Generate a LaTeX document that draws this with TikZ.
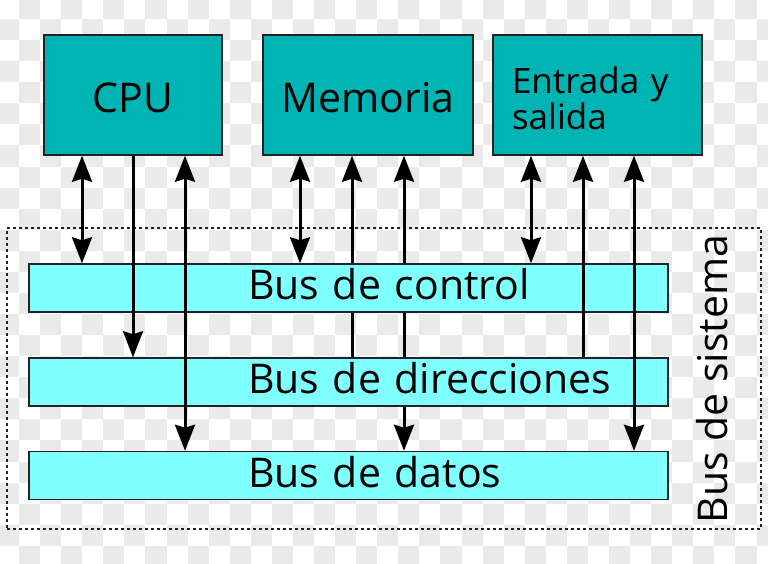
\documentclass[tikz,border=0pt]{standalone}
\usepackage{fontspec}
\setmainfont{Open Sans}
\usepackage{tikz}
\usetikzlibrary{arrows.meta}
\pgfdeclarelayer{front}
\pgfsetlayers{main,front}
\definecolor{unitfill}{RGB}{0,180,180}
\definecolor{busfill}{RGB}{128,255,255}
\definecolor{edge}{RGB}{34,34,34}
\definecolor{checkgray}{RGB}{234,234,234}

\begin{document}
\begin{tikzpicture}[
    x=1pt, y=-1pt,
    unit/.style={draw=edge, line width=1.5pt, fill=unitfill, inner sep=0pt,
                 minimum width=#1, minimum height=120pt},
    big/.style={font=\fontsize{41}{46}\selectfont, text height=36pt, text depth=0pt},
    bus/.style={draw=edge, line width=1.5pt, fill=busfill, inner sep=0pt,
                minimum width=639pt, minimum height=48pt, text width=639pt, align=left,
                font=\fontsize{41}{46}\selectfont, text height=29pt, text depth=6pt},
    frame/.style={draw=edge, line width=1.5pt, dash pattern=on 3pt off 3pt,
                  minimum width=754pt, minimum height=301pt},
    link/.style={line width=3pt, >={Stealth[length=26pt, width=20pt, inset=3pt]}}]
    \useasboundingbox (0,0) rectangle (768,564);
    % transparent background
    \foreach \j in {0,2,...,26}
      \foreach \i in {1,3,...,35}
        \path[fill=checkgray] ({-2+21.07*\i},{-2+21.07*\j}) rectangle ++(21.07,21.07);
    \foreach \j in {1,3,...,25}
      \foreach \i in {0,2,...,36}
        \path[fill=checkgray] ({-2+21.07*\i},{-2+21.07*\j}) rectangle ++(21.07,21.07);
    \begin{pgfonlayer}{front}
      \node[unit=178pt, big] (cpu) at (133,95) {CPU};
      \node[unit=210pt, big] (mem) at (368,95) {Memoria};
      \node[unit=209pt, inner xsep=19pt, text width=171pt, align=left,
            text height=33pt, font=\fontsize{35}{31}\selectfont] (io) at (597.5,95)
            {Entrada y\\ salida};
      \node[bus] (ctl) at (348.5,288) {\hspace*{219pt}Bus de control};
      \node[bus] (dir) at (348.5,382) {\hspace*{219pt}Bus de direcciones};
      \node[bus] (dat) at (348.5,475.5) {\hspace*{219pt}Bus de datos};
      \node[rotate=90, anchor=base, font=\fontsize{41}{46}\selectfont] (sysname)
        at (727,379) {Bus de sistema};
    \end{pgfonlayer}
    \foreach \x/\n in {82/c1, 133/c2, 185/c3, 300/m1, 352/m2, 404/m3,
                       531/e1, 583/e2, 634/e3}
      \coordinate (\n) at (\x,0);
    % memory lines run behind the buses
    \node[frame] (sys) at (384,378.5) {};
    \draw[link, <-] (m2 |- mem.south) -- (m2 |- dir.north);
    \draw[link, <->] (m3 |- mem.south) -- (m3 |- dat.north);
    \begin{pgfonlayer}{front}
      \draw[link, <->] (c1 |- cpu.south) -- (c1 |- ctl.north);
      \draw[link, ->] (c2 |- cpu.south) -- (c2 |- dir.north);
      \draw[link, <->] (c3 |- cpu.south) -- (c3 |- dat.north);
      \draw[link, <->] (m1 |- mem.south) -- (m1 |- ctl.north);
      \draw[link, <->] (e1 |- io.south) -- (e1 |- ctl.north);
      \draw[link, <-] (e2 |- io.south) -- (e2 |- dir.north);
      \draw[link, <->] (e3 |- io.south) -- (e3 |- dat.north);
    \end{pgfonlayer}
\end{tikzpicture}
\end{document}
